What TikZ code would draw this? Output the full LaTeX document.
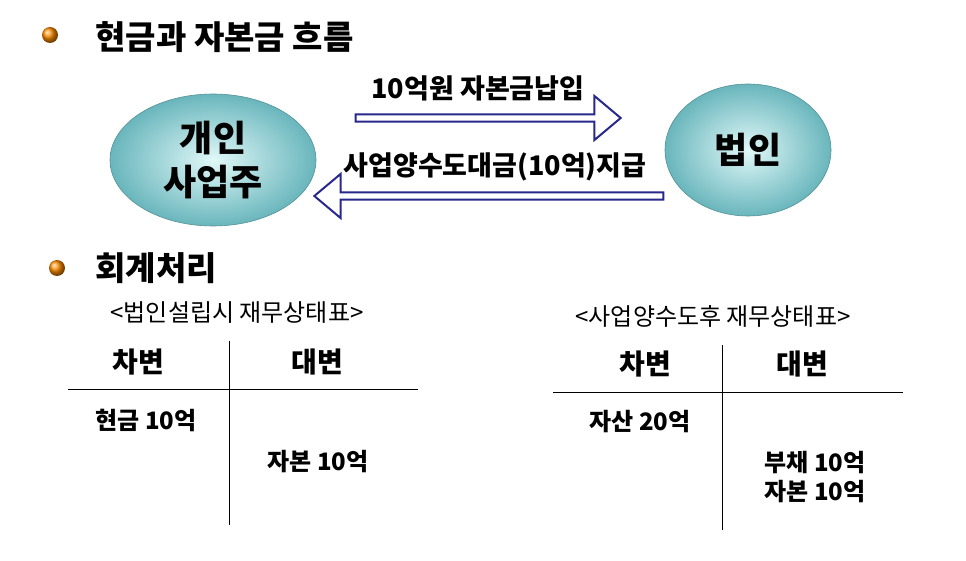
\documentclass[tikz,border=0pt]{standalone}
\usepackage{fontspec}
\setmainfont{Noto Sans CJK KR}
\usetikzlibrary{shapes.geometric,shapes.arrows,shadings}
\definecolor{tealA}{RGB}{225,248,248}
\definecolor{tealB}{RGB}{105,182,188}
\definecolor{navy}{RGB}{40,40,140}
\tikzset{
 ball/.style={circle,minimum size=16pt,inner sep=0pt,ball color=orange!90!yellow,draw=none},
 ttl/.style={anchor=west,font=\fontsize{33}{38}\selectfont\bfseries},
 ell/.style={ellipse,inner color=tealA,outer color=tealB,draw=tealB!80!black,line width=0.6pt,align=center,font=\fontsize{36}{44}\selectfont\bfseries},
 lbl/.style={font=\fontsize{27}{30}\selectfont\bfseries},
 sub/.style={font=\fontsize{24}{28}\selectfont},
 hd/.style={font=\fontsize{28}{32}\selectfont\bfseries},
 txt/.style={font=\fontsize{24}{29}\selectfont\bfseries,align=center},
 arr/.style={single arrow,draw=navy,fill=white,line width=2pt,minimum width=44pt,single arrow head extend=5pt,inner sep=0pt,single arrow tip angle=80},
 tl/.style={line width=0.9pt}
}
\begin{document}
\begin{tikzpicture}[x=1pt,y=-1pt]
\useasboundingbox (0,0) rectangle (966,561);
\node[ball] (b1) at (50,35) {};
\node[ttl] (t1) at (92,37) {현금과 자본금 흐름};
\node[ell,minimum width=206pt,minimum height=132pt] (p) at (213,160) {개인\\사업주};
\node[ell,minimum width=166pt,minimum height=132pt] (c) at (748,150) {법인};
\node[arr,minimum height=265pt] (a1) at (486,118) {};
\node[lbl] (l1) at (478,88) {10억원 자본금납입};
\node[arr,minimum height=349pt,shape border rotate=180] (a2) at (491,196) {};
\node[lbl] (l2) at (495,167) {사업양수도대금(10억)지급};
\node[ball] (b2) at (57,268) {};
\node[ttl] (t2) at (92,268) {회계처리};
\node[sub] (s1) at (237,313) {<법인설립시 재무상태표>};
\node[sub] (s2) at (713,316) {<사업양수도후 재무상태표>};
\coordinate (h1a) at (68,389); \coordinate (h1b) at (418,389);
\coordinate (v1a) at (229,341); \coordinate (v1b) at (229,525);
\draw[tl] (h1a) -- (h1b); \draw[tl] (v1a) -- (v1b);
\coordinate (h2a) at (553,392); \coordinate (h2b) at (903,392);
\coordinate (v2a) at (722,345); \coordinate (v2b) at (722,530);
\draw[tl] (h2a) -- (h2b); \draw[tl] (v2a) -- (v2b);
\node[hd] (d1) at (138,362) {차변};
\node[hd] (c1) at (317,362) {대변};
\node[txt] (x1) at (146,420) {현금 10억};
\node[txt] (y1) at (318,462) {자본 10억};
\node[hd] (d2) at (645,364) {차변};
\node[hd] (c2) at (802,364) {대변};
\node[txt] (x2) at (640,422) {자산 20억};
\node[txt] (y2) at (815,477) {부채 10억\\자본 10억};
\end{tikzpicture}
\end{document}
